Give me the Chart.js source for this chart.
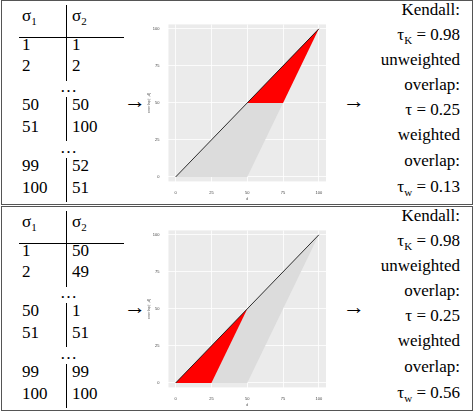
<!DOCTYPE html><html><head><meta charset="utf-8">
<script src="https://cdn.jsdelivr.net/npm/chart.js@4/dist/chart.umd.min.js"></script>
<style>
body{margin:0;width:474px;height:414px;background:#fff;font-family:"Liberation Serif","DejaVu Serif",serif;font-size:17px;position:relative;overflow:hidden}
.panel{position:absolute;left:1px;width:470px;border:1px solid #555}
.t{position:absolute;line-height:20px;white-space:nowrap}
.r{position:absolute;right:12px;line-height:20px;text-align:right;white-space:nowrap}
.hl{position:absolute;height:1px;background:#000}
.vl{position:absolute;width:1px;background:#000}
.ar{position:absolute;font-size:22px;line-height:22px}
sub{font-size:11px}
.cw{position:absolute;left:143px;top:20px;width:187px;height:180px}
</style></head><body>
<div id="root"></div>
<script>
const diagonal=[{x:0,y:0},{x:100,y:100}];
const greyArea=[{x:0,y:0},{x:50,y:0},{x:100,y:100}];
const redTop=[{x:50,y:50},{x:75,y:50},{x:100,y:100}];
const redBottom=[{x:0,y:0},{x:25,y:0},{x:50,y:50}];
const ticks=[0,25,50,75,100];
const sigma1=["1","2","…","50","51","…","99","100"];
const sigma2Top=["1","2","…","50","100","…","52","51"];
const sigma2Bot=["50","49","…","1","51","…","99","100"];
const rightTop=["Kendall:","τ<sub>K</sub> = 0.98","unweighted","overlap:","τ = 0.25","weighted","overlap:","τ<sub>w</sub> = 0.13"];
const rightBot=["Kendall:","τ<sub>K</sub> = 0.98","unweighted","overlap:","τ = 0.25","weighted","overlap:","τ<sub>w</sub> = 0.56"];

const root=document.getElementById('root');
function panel(top,s2,right,red,id){
  const p=document.createElement('div');p.className='panel';p.style.top=top+'px';p.style.height='203px';
  let h='<div class="t" style="left:20px;top:5px">σ<sub>1</sub></div><div class="t" style="left:70px;top:5px">σ<sub>2</sub></div>';
  h+='<div class="hl" style="left:17px;width:105px;top:36px"></div>';
  h+='<div class="vl" style="left:64px;top:4px;height:76px"></div><div class="vl" style="left:64px;top:96px;height:44px"></div><div class="vl" style="left:64px;top:157px;height:44px"></div>';
  const ys=[34,55,76,94,116,137,155,177];
  sigma1.forEach((v,i)=>{const dots=v==='…';h+=`<div class="t" style="left:${dots?58:20}px;top:${ys[i]}px">${v}</div>`;
    if(!dots)h+=`<div class="t" style="left:70px;top:${ys[i]}px">${s2[i]}</div>`;});
  h+='<div class="ar" style="left:122px;top:89px">→</div><div class="ar" style="left:341px;top:89px">→</div>';
  const yy=[-1,24,49,74,99,124,150,176];
  right.forEach((v,i)=>{h+=`<div class="r" style="top:${yy[i]}px">${v}</div>`;});
  h+=`<div class="cw"><canvas id="${id}"></canvas></div>`;
  p.innerHTML=h;root.appendChild(p);
  const polys=[{pts:greyArea,c:'#DCDCDC'},{pts:red,c:'#FF0000'}];
  const bg={id:'bg',beforeDraw(c){const {ctx,chartArea:a}=c;ctx.save();ctx.fillStyle='#EBEBEB';ctx.fillRect(a.left,a.top,a.width,a.height);ctx.restore();}};
  const poly={id:'poly',beforeDatasetsDraw(c){const ctx=c.ctx,x=c.scales.x,y=c.scales.y;ctx.save();
    polys.forEach(P=>{ctx.beginPath();P.pts.forEach((q,i)=>{const px=x.getPixelForValue(q.x),py=y.getPixelForValue(q.y);i?ctx.lineTo(px,py):ctx.moveTo(px,py);});ctx.closePath();ctx.fillStyle=P.c;ctx.fill();});
    ctx.restore();}};
  new Chart(document.getElementById(id),{type:'scatter',
    data:{datasets:[{data:diagonal,showLine:true,borderColor:'#000',borderWidth:0.8,pointRadius:0}]},
    options:{responsive:true,maintainAspectRatio:false,animation:false,plugins:{legend:{display:false},tooltip:{enabled:false}},
      layout:{padding:{top:2,right:6}},
      scales:{x:{min:-5,max:105,afterBuildTicks:a=>{a.ticks=ticks.map(v=>({value:v}))},grid:{color:'#fff',lineWidth:0.8},border:{display:false},
          ticks:{font:{size:4},color:'#444',padding:1,maxRotation:0},title:{display:true,text:'d',font:{size:4},padding:0}},
        y:{min:-3,max:103,afterBuildTicks:a=>{a.ticks=ticks.map(v=>({value:v}))},grid:{color:'#fff',lineWidth:0.8},border:{display:false},
          ticks:{font:{size:4},color:'#444',padding:1},title:{display:true,text:'overlap(·,d)',font:{size:4},padding:1}}}},
    plugins:[bg,poly]});
}
panel(0,sigma2Top,rightTop,redTop,'c1');
panel(206,sigma2Bot,rightBot,redBottom,'c2');
</script></body></html>
